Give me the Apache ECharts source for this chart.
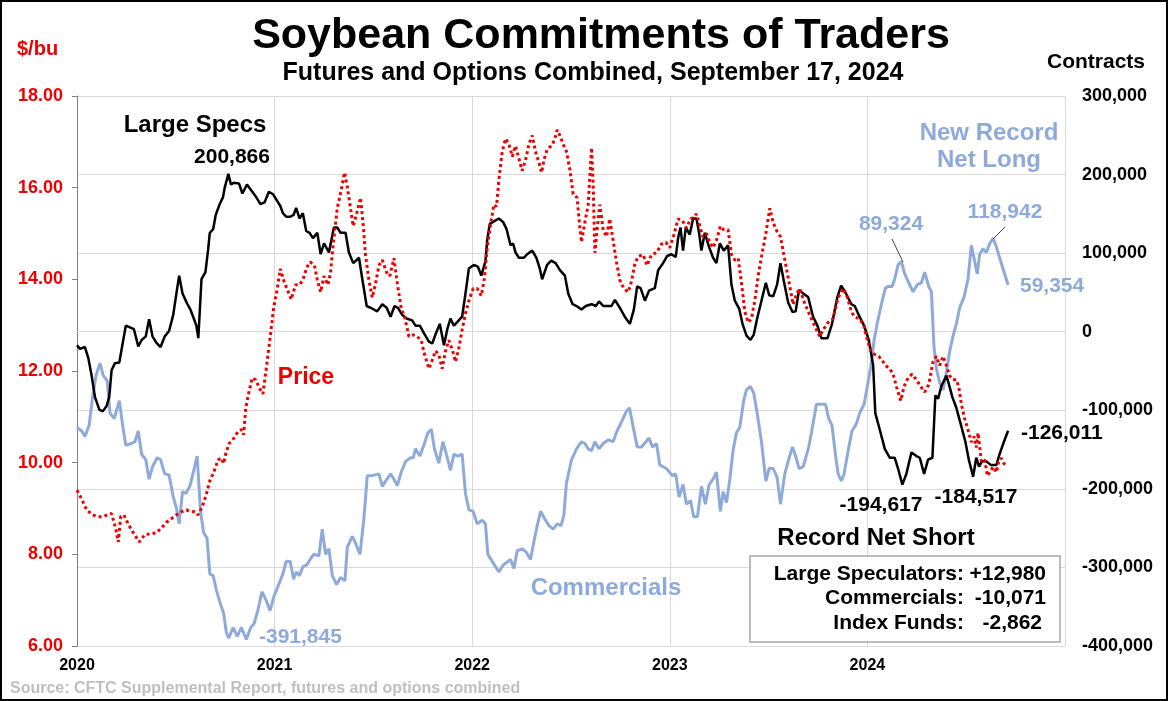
<!DOCTYPE html>
<html>
<head>
<meta charset="utf-8">
<title>Soybean Commitments of Traders</title>
<script src="https://cdn.jsdelivr.net/npm/echarts@6/dist/echarts.min.js"></script>
<style>
  html, body { margin: 0; padding: 0; background: #fff; }
  #chart { width: 1168px; height: 701px; }
</style>
</head>
<body>
<div id="chart"></div>
<script>
// [year as decimal, net position in thousands of contracts]
var largeSpecs = [
  [2020.000,-17.3],[2020.015,-21.8],[2020.040,-19.5],[2020.057,-33.2],[2020.074,-55.9],[2020.091,-83.2],
  [2020.113,-99.1],[2020.130,-101.4],[2020.150,-94.5],[2020.163,-83.2],[2020.175,-49.1],[2020.192,-40.0],
  [2020.214,-39.1],[2020.231,-15.0],[2020.247,7.7],[2020.268,5.5],[2020.288,3.2],[2020.310,-18.6],
  [2020.327,-10.5],[2020.348,-5.9],[2020.365,15.9],[2020.382,-5.9],[2020.402,-14.1],[2020.423,-19.5],
  [2020.444,-5.9],[2020.466,0.9],[2020.487,21.4],[2020.503,48.6],[2020.517,71.4],[2020.534,48.6],
  [2020.557,35.9],[2020.574,28.2],[2020.591,16.8],[2020.604,7.7],[2020.614,-8.2],[2020.630,66.8],
  [2020.650,75.9],[2020.663,103.2],[2020.672,125.9],[2020.689,130.4],[2020.702,148.6],[2020.722,162.3],
  [2020.739,171.3],[2020.747,182.7],[2020.766,200.9],[2020.779,187.3],[2020.793,189.5],[2020.820,188.6],
  [2020.837,175.9],[2020.860,187.3],[2020.887,178.2],[2020.907,171.3],[2020.928,162.3],[2020.949,164.5],
  [2020.971,178.2],[2020.992,175.0],[2021.012,166.8],[2021.029,160.0],[2021.042,150.9],[2021.059,146.3],
  [2021.079,146.3],[2021.096,148.6],[2021.109,157.7],[2021.126,144.1],[2021.143,150.9],[2021.160,128.2],
  [2021.177,125.9],[2021.194,119.1],[2021.216,125.9],[2021.233,98.6],[2021.250,112.3],[2021.275,100.9],
  [2021.300,132.7],[2021.317,132.7],[2021.334,125.9],[2021.359,125.9],[2021.376,100.9],[2021.398,87.3],
  [2021.427,94.1],[2021.444,66.8],[2021.466,32.7],[2021.486,30.5],[2021.519,25.9],[2021.545,35.0],
  [2021.567,30.5],[2021.587,19.1],[2021.607,32.7],[2021.624,30.5],[2021.646,21.4],[2021.668,16.8],
  [2021.696,14.5],[2021.713,7.7],[2021.735,7.7],[2021.755,-1.4],[2021.781,-12.7],[2021.798,-15.0],
  [2021.814,-3.6],[2021.836,10.0],[2021.857,-17.3],[2021.874,3.2],[2021.890,16.8],[2021.907,7.7],
  [2021.924,12.3],[2021.949,19.1],[2021.966,48.6],[2021.983,80.4],[2022.008,85.0],[2022.029,82.7],
  [2022.046,71.4],[2022.067,89.5],[2022.076,116.8],[2022.089,137.3],[2022.110,140.4],[2022.135,144.1],
  [2022.157,139.5],[2022.174,130.4],[2022.194,110.0],[2022.207,112.3],[2022.219,100.9],[2022.236,94.1],
  [2022.261,94.1],[2022.278,98.6],[2022.304,103.2],[2022.325,94.1],[2022.342,80.4],[2022.354,66.8],
  [2022.379,85.0],[2022.400,90.4],[2022.422,87.3],[2022.445,78.0],[2022.469,71.4],[2022.486,48.6],
  [2022.508,35.0],[2022.528,32.7],[2022.553,28.2],[2022.575,32.7],[2022.604,35.0],[2022.626,32.7],
  [2022.642,38.6],[2022.663,32.7],[2022.705,32.7],[2022.722,40.5],[2022.747,30.5],[2022.772,19.1],
  [2022.798,10.0],[2022.818,28.2],[2022.835,57.7],[2022.852,55.4],[2022.874,39.5],[2022.895,52.3],
  [2022.924,55.4],[2022.941,78.2],[2022.966,87.3],[2022.987,96.4],[2023.008,98.6],[2023.030,95.0],
  [2023.042,119.1],[2023.054,132.7],[2023.067,103.2],[2023.081,132.7],[2023.101,123.6],[2023.118,144.1],
  [2023.135,144.1],[2023.148,125.9],[2023.160,103.2],[2023.177,125.9],[2023.199,107.7],[2023.219,94.1],
  [2023.236,87.3],[2023.253,112.3],[2023.273,103.2],[2023.295,110.0],[2023.312,60.0],[2023.329,39.5],
  [2023.351,29.5],[2023.368,10.0],[2023.388,-5.0],[2023.408,-10.5],[2023.425,-3.6],[2023.442,16.8],
  [2023.464,39.5],[2023.486,62.3],[2023.503,46.4],[2023.523,45.0],[2023.543,60.0],[2023.560,87.3],
  [2023.577,64.5],[2023.599,37.3],[2023.621,25.0],[2023.637,25.9],[2023.654,53.2],[2023.675,48.6],
  [2023.700,44.1],[2023.725,19.1],[2023.747,7.7],[2023.767,-8.2],[2023.798,-8.2],[2023.821,10.0],
  [2023.848,44.1],[2023.867,58.6],[2023.887,50.9],[2023.919,35.0],[2023.936,32.7],[2023.956,21.4],
  [2023.983,7.7],[2024.007,-10.5],[2024.029,-42.3],[2024.040,-103.6],[2024.062,-124.1],[2024.088,-149.1],
  [2024.113,-160.4],[2024.138,-160.4],[2024.155,-174.1],[2024.177,-194.6],[2024.197,-180.9],[2024.223,-153.6],
  [2024.248,-158.2],[2024.265,-160.4],[2024.287,-180.9],[2024.307,-162.7],[2024.329,-160.4],[2024.344,-80.9],
  [2024.358,-85.4],[2024.374,-69.5],[2024.400,-55.9],[2024.413,-67.3],[2024.430,-83.2],[2024.450,-96.8],
  [2024.472,-117.3],[2024.496,-140.0],[2024.513,-162.7],[2024.535,-184.5],[2024.551,-160.4],[2024.565,-171.8],
  [2024.580,-165.0],[2024.602,-165.0],[2024.624,-169.5],[2024.653,-169.5],[2024.669,-155.9],[2024.691,-140.0],
  [2024.712,-126.0]
];

var commercials = [
  [2020.000,-121.8],[2020.024,-126.4],[2020.040,-133.2],[2020.061,-119.5],[2020.079,-83.2],[2020.096,-55.9],
  [2020.116,-40.0],[2020.133,-55.9],[2020.153,-62.7],[2020.167,-103.6],[2020.189,-110.4],[2020.214,-87.7],
  [2020.234,-124.1],[2020.247,-144.5],[2020.276,-142.3],[2020.293,-140.0],[2020.310,-126.4],[2020.327,-155.9],
  [2020.348,-162.7],[2020.365,-187.7],[2020.382,-171.8],[2020.406,-160.4],[2020.423,-162.7],[2020.444,-180.9],
  [2020.466,-182.3],[2020.487,-210.4],[2020.503,-224.1],[2020.517,-244.5],[2020.534,-203.6],[2020.551,-205.9],
  [2020.571,-196.8],[2020.591,-176.4],[2020.608,-158.2],[2020.625,-228.6],[2020.641,-255.9],[2020.658,-262.7],
  [2020.672,-308.2],[2020.689,-310.4],[2020.705,-328.6],[2020.726,-346.8],[2020.742,-358.1],[2020.756,-383.1],
  [2020.768,-390.0],[2020.790,-376.4],[2020.811,-387.7],[2020.832,-376.4],[2020.857,-391.8],[2020.879,-376.4],
  [2020.896,-371.8],[2020.916,-353.6],[2020.936,-330.9],[2020.958,-342.3],[2020.977,-355.0],[2020.995,-338.0],
  [2021.017,-324.1],[2021.042,-308.2],[2021.059,-292.0],[2021.079,-292.3],[2021.096,-315.0],[2021.109,-305.9],
  [2021.126,-310.4],[2021.143,-299.1],[2021.163,-296.8],[2021.185,-287.7],[2021.199,-283.2],[2021.224,-285.4],
  [2021.241,-251.3],[2021.258,-283.2],[2021.275,-276.3],[2021.292,-310.4],[2021.314,-321.8],[2021.334,-312.7],
  [2021.356,-317.2],[2021.368,-274.1],[2021.393,-260.4],[2021.410,-269.5],[2021.432,-283.2],[2021.452,-237.7],
  [2021.469,-183.2],[2021.494,-183.2],[2021.528,-180.9],[2021.545,-196.8],[2021.562,-190.0],[2021.587,-180.9],
  [2021.604,-187.7],[2021.621,-195.9],[2021.641,-178.6],[2021.663,-165.0],[2021.688,-160.4],[2021.702,-160.4],
  [2021.713,-149.1],[2021.735,-158.2],[2021.755,-144.5],[2021.776,-128.6],[2021.793,-124.1],[2021.809,-149.1],
  [2021.831,-167.3],[2021.852,-140.0],[2021.874,-160.4],[2021.890,-176.4],[2021.907,-155.9],[2021.927,-158.2],
  [2021.949,-155.9],[2021.966,-205.9],[2021.983,-226.3],[2022.005,-228.6],[2022.025,-244.5],[2022.051,-240.0],
  [2022.067,-244.5],[2022.079,-283.2],[2022.101,-292.3],[2022.118,-299.1],[2022.135,-305.9],[2022.157,-296.8],
  [2022.194,-290.0],[2022.211,-301.3],[2022.228,-278.6],[2022.253,-276.3],[2022.275,-280.9],[2022.295,-290.0],
  [2022.312,-267.3],[2022.329,-246.8],[2022.346,-228.6],[2022.366,-237.7],[2022.388,-246.8],[2022.410,-251.3],
  [2022.430,-244.5],[2022.450,-246.8],[2022.464,-233.2],[2022.477,-192.3],[2022.503,-162.7],[2022.528,-149.1],
  [2022.553,-140.0],[2022.570,-142.3],[2022.587,-149.1],[2022.604,-151.4],[2022.621,-140.0],[2022.642,-149.1],
  [2022.663,-142.3],[2022.688,-137.7],[2022.713,-140.0],[2022.733,-126.4],[2022.755,-115.0],[2022.780,-101.4],
  [2022.796,-96.8],[2022.815,-121.8],[2022.835,-146.8],[2022.857,-146.8],[2022.879,-140.0],[2022.895,-135.4],
  [2022.912,-146.8],[2022.933,-142.3],[2022.949,-169.5],[2022.983,-174.1],[2023.013,-183.2],[2023.030,-180.9],
  [2023.047,-210.4],[2023.067,-194.5],[2023.084,-219.5],[2023.105,-215.0],[2023.121,-235.4],[2023.140,-235.4],
  [2023.160,-196.8],[2023.180,-219.5],[2023.199,-194.5],[2023.219,-187.7],[2023.236,-178.6],[2023.256,-228.6],
  [2023.270,-203.6],[2023.287,-217.3],[2023.304,-187.7],[2023.320,-151.4],[2023.337,-128.6],[2023.354,-121.8],
  [2023.374,-87.7],[2023.388,-74.1],[2023.408,-69.5],[2023.425,-78.6],[2023.442,-103.6],[2023.464,-140.0],
  [2023.486,-190.0],[2023.503,-174.1],[2023.523,-174.1],[2023.543,-185.4],[2023.560,-219.5],[2023.582,-180.9],
  [2023.604,-160.4],[2023.621,-146.8],[2023.637,-158.2],[2023.654,-174.1],[2023.675,-172.0],[2023.703,-146.8],
  [2023.720,-124.1],[2023.742,-92.3],[2023.757,-92.3],[2023.788,-92.3],[2023.804,-110.4],[2023.821,-119.5],
  [2023.838,-155.9],[2023.852,-180.9],[2023.868,-190.0],[2023.882,-180.9],[2023.906,-146.8],[2023.922,-126.4],
  [2023.944,-117.3],[2023.961,-103.6],[2023.983,-92.3],[2024.000,-69.5],[2024.017,-44.5],[2024.034,-10.5],
  [2024.051,12.3],[2024.071,35.0],[2024.091,55.4],[2024.105,57.7],[2024.125,57.7],[2024.138,66.8],
  [2024.155,85.0],[2024.172,89.3],[2024.189,73.6],[2024.209,62.3],[2024.231,50.9],[2024.253,60.0],
  [2024.273,62.3],[2024.290,75.9],[2024.310,57.7],[2024.324,50.9],[2024.337,-19.5],[2024.349,-46.8],
  [2024.366,-65.0],[2024.383,-74.1],[2024.400,-51.4],[2024.417,-24.1],[2024.433,-5.9],[2024.450,10.0],
  [2024.467,30.5],[2024.489,44.1],[2024.509,66.8],[2024.526,110.0],[2024.543,89.5],[2024.556,73.6],
  [2024.568,98.6],[2024.585,105.4],[2024.602,100.9],[2024.619,112.3],[2024.636,118.9],[2024.653,107.7],
  [2024.669,94.1],[2024.686,80.4],[2024.712,59.4]
];

// [year as decimal, $/bu]
var price = [
  [2020.000,9.40],[2020.024,9.20],[2020.049,8.97],[2020.079,8.86],[2020.108,8.82],[2020.133,8.82],
  [2020.153,8.86],[2020.175,8.89],[2020.197,8.54],[2020.209,8.27],[2020.221,8.82],[2020.237,8.86],
  [2020.259,8.66],[2020.285,8.47],[2020.315,8.27],[2020.343,8.43],[2020.377,8.45],[2020.402,8.47],
  [2020.428,8.58],[2020.453,8.70],[2020.478,8.78],[2020.503,8.86],[2020.529,8.93],[2020.554,8.97],
  [2020.574,8.93],[2020.596,8.93],[2020.613,8.86],[2020.635,9.05],[2020.655,9.32],[2020.672,9.60],
  [2020.692,9.79],[2020.714,10.06],[2020.731,10.10],[2020.742,9.98],[2020.752,10.18],[2020.769,10.41],
  [2020.793,10.53],[2020.815,10.68],[2020.832,10.72],[2020.843,10.61],[2020.854,11.19],[2020.870,11.54],
  [2020.887,11.85],[2020.904,11.81],[2020.924,11.62],[2020.941,11.50],[2020.961,12.16],[2020.978,12.75],
  [2020.995,13.37],[2021.012,13.76],[2021.029,14.23],[2021.045,13.99],[2021.062,13.80],[2021.084,13.56],
  [2021.106,13.88],[2021.126,13.88],[2021.143,13.99],[2021.163,14.26],[2021.180,14.38],[2021.202,14.30],
  [2021.216,13.99],[2021.233,13.72],[2021.250,14.07],[2021.270,13.88],[2021.283,14.15],[2021.297,14.77],
  [2021.317,15.55],[2021.337,15.94],[2021.354,16.33],[2021.368,16.02],[2021.384,15.55],[2021.398,15.16],
  [2021.415,15.43],[2021.435,15.78],[2021.448,15.20],[2021.460,14.54],[2021.477,13.99],[2021.494,13.60],
  [2021.511,13.91],[2021.528,14.30],[2021.545,14.42],[2021.567,14.15],[2021.583,14.07],[2021.604,14.46],
  [2021.621,13.91],[2021.641,13.37],[2021.658,13.18],[2021.680,12.75],[2021.702,12.79],[2021.722,12.75],
  [2021.742,12.67],[2021.759,12.36],[2021.781,12.05],[2021.798,12.24],[2021.814,12.44],[2021.831,12.36],
  [2021.848,12.05],[2021.865,12.44],[2021.882,12.67],[2021.899,12.47],[2021.916,12.20],[2021.933,12.51],
  [2021.949,12.90],[2021.966,13.25],[2021.983,13.53],[2022.005,13.80],[2022.025,13.80],[2022.046,13.64],
  [2022.062,14.03],[2022.076,14.69],[2022.093,15.20],[2022.110,15.63],[2022.123,15.59],[2022.135,16.17],
  [2022.152,16.79],[2022.169,17.07],[2022.186,16.95],[2022.203,16.68],[2022.219,16.91],[2022.236,16.64],
  [2022.253,16.37],[2022.270,16.60],[2022.287,16.95],[2022.304,17.14],[2022.320,16.79],[2022.337,16.56],
  [2022.351,16.33],[2022.363,16.60],[2022.379,16.83],[2022.400,16.91],[2022.416,17.03],[2022.430,17.26],
  [2022.447,17.11],[2022.460,16.95],[2022.477,16.79],[2022.494,16.40],[2022.511,15.86],[2022.531,15.78],
  [2022.545,15.12],[2022.553,14.81],[2022.570,15.24],[2022.587,15.63],[2022.604,16.87],[2022.612,16.09],
  [2022.621,14.58],[2022.632,15.08],[2022.646,15.63],[2022.663,15.08],[2022.680,14.93],[2022.696,15.32],
  [2022.713,14.85],[2022.730,14.38],[2022.747,13.99],[2022.767,13.80],[2022.789,13.72],[2022.806,13.95],
  [2022.823,14.34],[2022.840,14.50],[2022.865,14.54],[2022.885,14.30],[2022.907,14.54],[2022.933,14.58],
  [2022.958,14.77],[2022.980,14.81],[2023.000,14.69],[2023.020,14.96],[2023.042,15.32],[2023.064,15.28],
  [2023.084,15.12],[2023.105,15.32],[2023.121,15.35],[2023.135,15.43],[2023.150,15.20],[2023.167,14.93],
  [2023.186,15.00],[2023.202,14.81],[2023.219,14.69],[2023.239,14.89],[2023.256,15.16],[2023.273,15.08],
  [2023.295,15.08],[2023.312,14.54],[2023.329,14.42],[2023.346,14.46],[2023.363,13.91],[2023.380,13.29],
  [2023.396,13.06],[2023.413,13.14],[2023.430,13.53],[2023.450,14.15],[2023.469,14.61],[2023.486,15.00],
  [2023.506,15.55],[2023.523,15.24],[2023.543,15.04],[2023.560,14.93],[2023.577,14.54],[2023.594,14.15],
  [2023.611,13.76],[2023.624,13.45],[2023.641,13.68],[2023.658,13.80],[2023.675,13.56],[2023.700,13.30],
  [2023.734,12.98],[2023.759,12.75],[2023.776,12.90],[2023.801,13.06],[2023.826,13.14],[2023.852,13.60],
  [2023.877,13.80],[2023.899,13.60],[2023.919,13.29],[2023.936,13.18],[2023.961,13.14],[2023.983,12.98],
  [2023.995,12.75],[2024.017,12.44],[2024.037,12.36],[2024.057,12.32],[2024.074,12.24],[2024.091,12.12],
  [2024.113,12.05],[2024.130,11.93],[2024.147,11.66],[2024.169,11.35],[2024.185,11.66],[2024.206,11.85],
  [2024.226,11.93],[2024.248,11.81],[2024.270,11.66],[2024.290,11.54],[2024.310,11.70],[2024.332,12.20],
  [2024.349,12.32],[2024.366,12.12],[2024.383,12.32],[2024.400,12.12],[2024.417,11.89],[2024.433,11.81],
  [2024.450,11.81],[2024.462,11.66],[2024.476,11.27],[2024.492,10.96],[2024.509,10.72],[2024.526,10.45],
  [2024.540,10.57],[2024.551,10.33],[2024.560,10.65],[2024.577,10.02],[2024.594,10.06],[2024.607,9.71],
  [2024.619,9.79],[2024.636,9.91],[2024.653,9.79],[2024.664,10.02],[2024.678,10.10],[2024.691,9.98],
  [2024.703,9.95]
];

var yearTicks = [2020, 2021, 2022, 2023, 2024];
var boxLabels = ['Large Speculators:', 'Commercials:', 'Index Funds:'];
var boxValues = ['+12,980', '-10,071', '-2,862'];

var FONT = 'Arial, "Liberation Sans", sans-serif';
var RED = '#ee0000';
var BLUE = '#8eaadb';
var GRID = '#d9d9d9';

function commas(v) {
  return String(v).replace(/\B(?=(\d{3})+(?!\d))/g, ',');
}
function toContracts(arr) {
  return arr.map(function (p) { return [p[0], Math.round(p[1] * 1000)]; });
}
function txt(x, y, s, color, size, align) {
  return {
    type: 'text', x: x, y: y, z: 100,
    style: {
      text: s, fill: color, font: 'bold ' + size + 'px ' + FONT,
      textAlign: align || 'center', textVerticalAlign: 'middle'
    }
  };
}
function seg(x1, y1, x2, y2) {
  return { type: 'line', z: 100, shape: { x1: x1, y1: y1, x2: x2, y2: y2 },
           style: { stroke: '#404040', lineWidth: 1 } };
}

var chart = echarts.init(document.getElementById('chart'));

var graphics = [
  { type: 'rect', z: 200, shape: { x: 1, y: 1, width: 1166, height: 699 },
    style: { fill: 'none', stroke: '#000', lineWidth: 2 } },
  txt(601, 36, 'Soybean Commitments of Traders', '#000', 43),
  txt(593, 73, 'Futures and Options Combined, September 17, 2024', '#000', 25),
  txt(17, 49, '$/bu', RED, 20, 'left'),
  txt(1096, 62, 'Contracts', '#000', 21),
  txt(195, 125, 'Large Specs', '#000', 24),
  txt(232, 157, '200,866', '#000', 21),
  txt(306, 378, 'Price', RED, 23),
  txt(259, 637, '-391,845', BLUE, 21, 'left'),
  txt(606, 588, 'Commercials', BLUE, 24),
  txt(989, 133, 'New Record', BLUE, 24),
  txt(989, 160, 'Net Long', BLUE, 24),
  txt(891, 224, '89,324', BLUE, 21),
  seg(892, 239, 903, 262),
  txt(1005, 212, '118,942', BLUE, 21),
  seg(1005, 227, 993, 239),
  txt(1020, 286, '59,354', BLUE, 21, 'left'),
  txt(1021, 433, '-126,011', '#000', 21, 'left'),
  txt(881, 505, '-194,617', '#000', 21),
  txt(976, 497, '-184,517', '#000', 21),
  txt(876, 538, 'Record Net Short', '#000', 24),
  { type: 'rect', z: 90, shape: { x: 750, y: 556, width: 310, height: 86 },
    style: { fill: '#fff', stroke: '#a6a6a6', lineWidth: 1.5 } },
  txt(10, 689, 'Source: CFTC Supplemental Report, futures and options combined', '#bfbfbf', 16, 'left')
];
var boxY = [574, 598, 623];
var valueRight = [1046, 1046, 1042];
for (var i = 0; i < boxLabels.length; i++) {
  graphics.push(txt(964, boxY[i], boxLabels[i], '#000', 21, 'right'));
  graphics.push(txt(valueRight[i], boxY[i], boxValues[i], '#000', 21, 'right'));
}

var option = {
  animation: false,
  backgroundColor: '#fff',
  textStyle: { fontFamily: FONT },
  grid: { left: 77, right: 103, top: 96, bottom: 55 },
  xAxis: {
    type: 'value', min: 2020, max: 2025, interval: 1,
    axisLine: { show: true, lineStyle: { color: GRID, width: 1 } },
    axisTick: { show: false },
    axisLabel: {
      margin: 12, color: '#000', fontWeight: 'bold', fontSize: 16, fontFamily: FONT,
      formatter: function (v) { return yearTicks.indexOf(v) >= 0 ? String(v) : ''; }
    },
    splitLine: { show: true, lineStyle: { color: GRID, width: 1 } }
  },
  yAxis: [
    {
      type: 'value', position: 'left', min: 6, max: 18, interval: 2,
      axisLine: { show: true, lineStyle: { color: '#808080', width: 1 } },
      axisTick: { show: true, inside: false, length: 5, lineStyle: { color: '#808080' } },
      axisLabel: {
        margin: 14, color: RED, fontWeight: 'bold', fontSize: 18, fontFamily: FONT,
        formatter: function (v) { return v.toFixed(2); }
      },
      splitLine: { show: false }
    },
    {
      type: 'value', position: 'right', min: -400000, max: 300000, interval: 100000,
      axisLine: { show: false },
      axisTick: { show: false },
      axisLabel: {
        margin: 17, color: '#000', fontWeight: 'bold', fontSize: 18, fontFamily: FONT,
        formatter: function (v) { return commas(v); }
      },
      splitLine: { show: true, lineStyle: { color: GRID, width: 1 } }
    }
  ],
  series: [
    {
      name: 'Commercials', type: 'line', yAxisIndex: 1, showSymbol: false,
      data: toContracts(commercials),
      lineStyle: { color: BLUE, width: 3 }, z: 2
    },
    {
      name: 'Large Specs', type: 'line', yAxisIndex: 1, showSymbol: false,
      data: toContracts(largeSpecs),
      lineStyle: { color: '#000', width: 2.5 }, z: 3
    },
    {
      name: 'Price', type: 'line', yAxisIndex: 0, showSymbol: false,
      data: price,
      lineStyle: { color: RED, width: 3, type: [3, 3] }, z: 4
    }
  ],
  graphic: graphics
};

chart.setOption(option);
</script>
</body>
</html>
